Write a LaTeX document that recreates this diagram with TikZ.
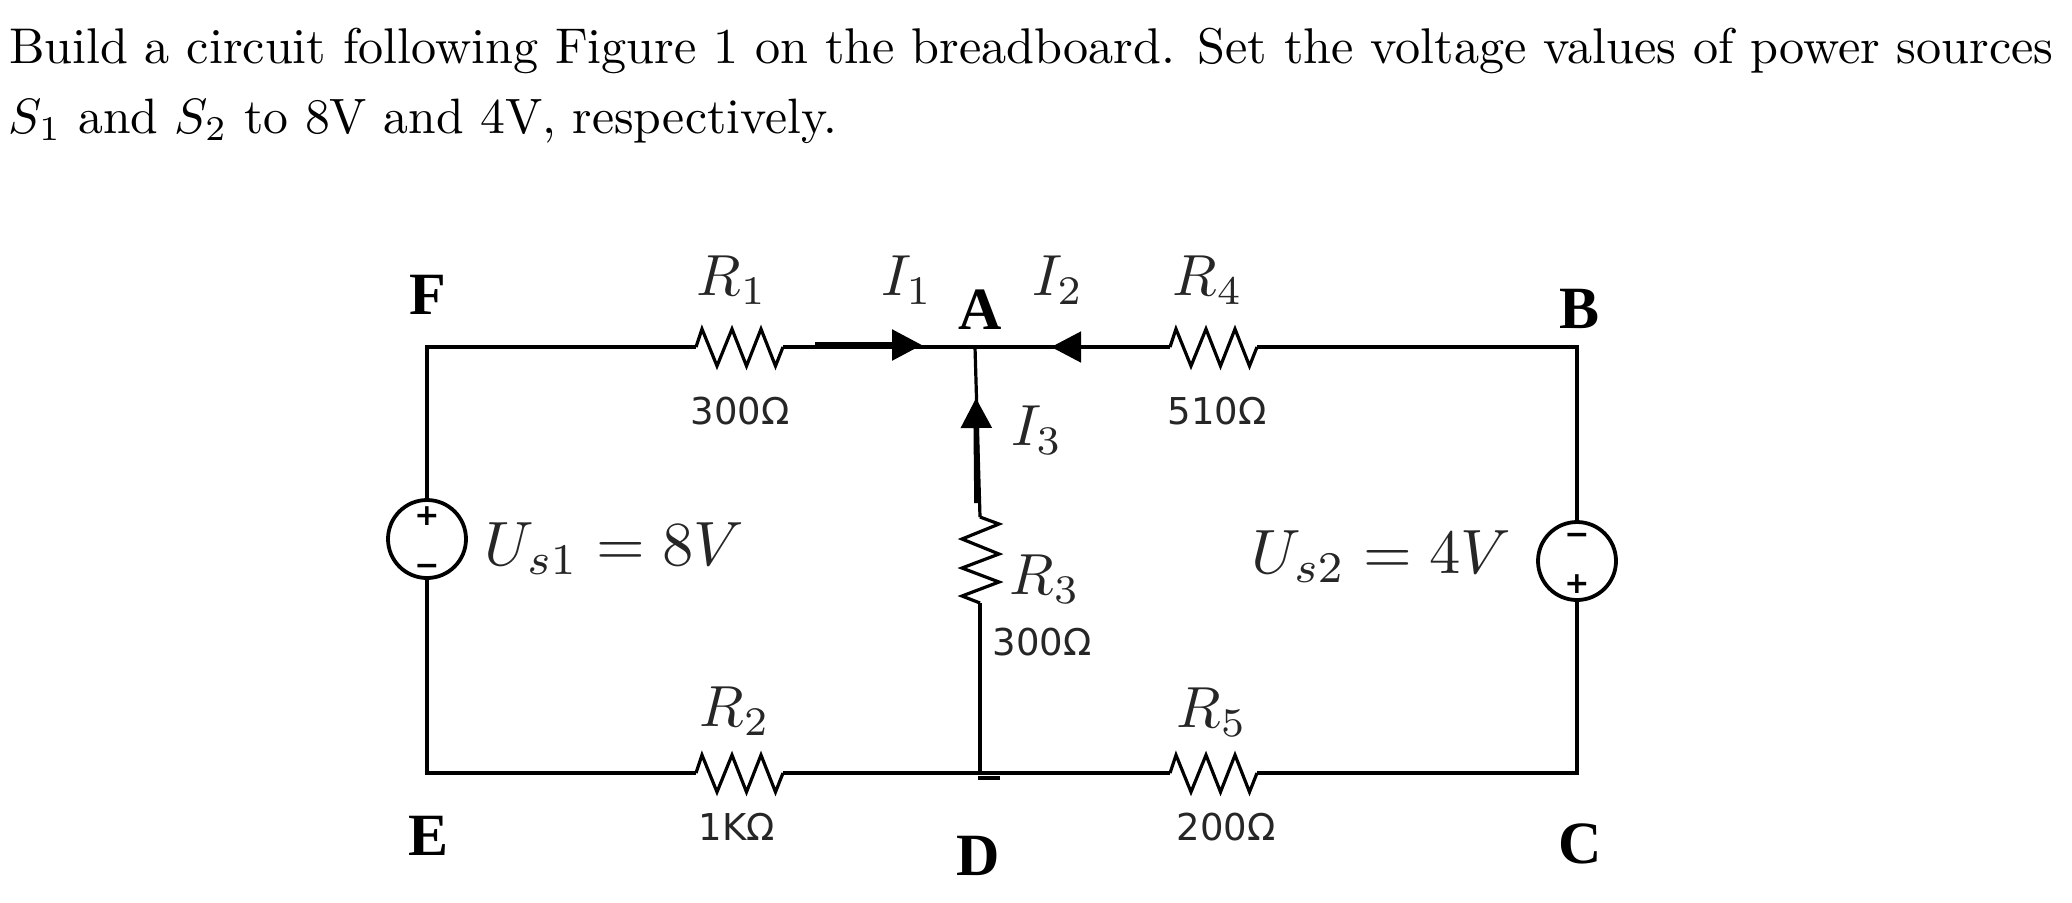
\documentclass[tikz,border=0pt]{standalone}
\usepackage{fontspec}
\newfontfamily\ptlabel{Liberation Serif}
\newfontfamily\valfont{DejaVu Sans}
\usetikzlibrary{arrows.meta}
\tikzset{
    wire/.style={line width=2.1pt},
    zig/.style={line width=1.6pt, line join=miter},
    flow/.style={line width=2.8pt, -{Triangle[length=15pt,width=15pt]}},
    src/.style={draw, circle, line width=1.9pt, minimum size=39pt, inner sep=0pt},
    sign/.style={inner sep=0pt, font=\valfont\bfseries\fontsize{15}{15}\selectfont},
    pt/.style={anchor=base, inner sep=0pt, font=\ptlabel\bfseries\fontsize{30}{30}\selectfont},
    val/.style={inner sep=0pt, text=black!85, font=\valfont\fontsize{18.5}{18.5}\selectfont},
    sym/.style={inner sep=0pt, text=black!85, scale=2.9},
    body/.style={anchor=base west, inner sep=0pt, scale=2.51}
}
\newcommand{\hzig}[1]{%
    \draw[zig] (#1) -- ++(6,-18) -- ++(15,37) -- ++(15,-37) -- ++(14.5,37) -- ++(14.5,-37) -- ++(14.5,37) -- ++(7.5,-19);
}
\begin{document}
\begin{tikzpicture}[x=0.5pt, y=-0.5pt]
    \useasboundingbox (0,0) rectangle (2072,902);

    \node[body] (line1) at (8,63) {Build a circuit following Figure 1 on the breadboard. Set the voltage values of power sources};
    \node[body, scale=0.99] (line2) at (8,133) {$S_1$ and $S_2$ to 8V and 4V, respectively.};

    % corners
    \coordinate (F) at (427,347);
    \coordinate (B) at (1577,347);
    \coordinate (C) at (1577,773);
    \coordinate (E) at (427,773);
    \coordinate (A) at (975,347);
    \coordinate (D) at (980,773);

    % resistor ends
    \coordinate (R1l) at (696,347);
    \coordinate (R1r) at (783,347);
    \coordinate (R4l) at (1170,347);
    \coordinate (R4r) at (1257,347);
    \coordinate (R2l) at (696,773);
    \coordinate (R2r) at (783,773);
    \coordinate (R5l) at (1170,773);
    \coordinate (R5r) at (1257,773);
    \coordinate (R3t) at (980,517);
    \coordinate (R3b) at (980,603);

    % sources
    \node[src] (S1) at (427,539) {};
    \node[src] (S2) at (1577,561) {};
    \draw[wire] (S1) -- (F) -- (R1l);
    \draw[wire] (R1r) -- (R4l);
    \draw[wire] (R4r) -- (B) -- (S2);
    \draw[wire] (S2) -- (C) -- (R5r);
    \draw[wire] (R5l) -- (R2r);
    \draw[wire] (R2l) -- (E) -- (S1);
    \draw[wire, line width=1.6pt] (A) -- (R3t);
    \draw[wire, line width=1.8pt] (R3b) -- (D);

    \node[sign] (p1) at (427,516) {+};
    \node[sign] (m1) at (427,570) {−};
    \node[sign] (m2) at (1577,539) {−};
    \node[sign] (p2) at (1577,584) {+};

    % resistors
    \foreach \r in {R1l,R4l,R2l,R5l} {
        \hzig{\r}
    }
    \draw[zig] (R3t) -- ++(19,7) -- ++(-37,15) -- ++(37,15) -- ++(-37,14) -- ++(37,14) -- ++(-37,14) -- (R3b);

    % currents
    \coordinate (I1a) at (815,345);
    \coordinate (I1b) at (922,345);
    \coordinate (I2a) at (1170,347);
    \coordinate (I2b) at (1051,347);
    \coordinate (I3a) at (977,503);
    \coordinate (I3b) at (976,398);
    \draw[flow] (I1a) -- (I1b);
    \draw[flow, line width=2.4pt] (I2a) -- (I2b);
    \draw[flow] (I3a) -- (I3b);
    \coordinate (Dn) at (978,778);
    \draw[wire, line width=2.2pt] (Dn) -- ++(22,0);

    % letters
    \node[pt] (lF) at (428,314) {F};
    \node[pt] (lA) at (980,329) {A};
    \node[pt] (lB) at (1579,328) {B};
    \node[pt] (lC) at (1580,863) {C};
    \node[pt] (lD) at (978,875) {D};
    \node[pt] (lE) at (429,855) {E};

    % labels
    \node[sym] (tR1) at (732,280) {$R_1$};
    \node[sym] (tI1) at (907,280) {$I_1$};
    \node[sym] (tI2) at (1058,280) {$I_2$};
    \node[sym] (tR4) at (1208,280) {$R_4$};
    \node[sym] (tI3) at (1037,430) {$I_3$};
    \node[sym] (tR3) at (1045,579) {$R_3$};
    \node[sym] (tR2) at (735,711) {$R_2$};
    \node[sym] (tR5) at (1212,712) {$R_5$};
    \node[sym, anchor=base west, scale=1.08] (tU1) at (483,565) {$U_{s1}=8V$};
    \node[sym, anchor=base west, scale=1.08] (tU2) at (1250,573) {$U_{s2}=4V$};

    \node[val] (v1) at (740,411) {300Ω};
    \node[val] (v4) at (1217,411) {510Ω};
    \node[val] (v3) at (1042,642) {300Ω};
    \node[val] (v2) at (737,827) {1KΩ};
    \node[val] (v5) at (1226,827) {200Ω};
\end{tikzpicture}
\end{document}
